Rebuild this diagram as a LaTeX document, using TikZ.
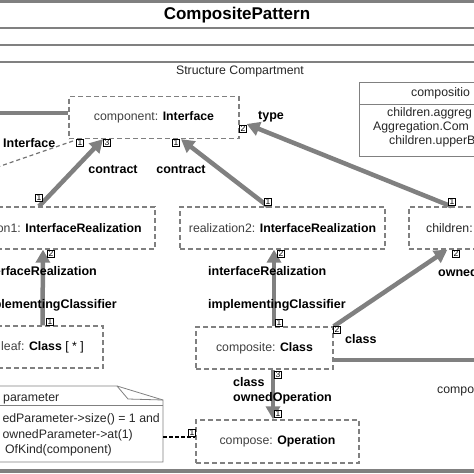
\documentclass[tikz,border=0pt]{standalone}
\usepackage{fontspec}
\setmainfont{Liberation Sans}
\usetikzlibrary{arrows.meta}

\begin{document}
\begin{tikzpicture}[
    x=1pt, y=-1pt,
    part/.style={draw=gray, dash pattern=on 5pt off 3pt, line width=1.3pt, minimum height=42pt, font=\fontsize{12.3}{14}\selectfont},
    conn/.style={draw=gray, line width=4.5pt, -{Triangle[width=14pt,length=13pt]}},
    band/.style={draw=gray, line width=3pt},
    mult/.style={draw=black, line width=0.6pt, inner sep=0.6pt, minimum width=7pt, fill=white, font=\fontsize{8.5}{9}\selectfont},
    role/.style={inner sep=0pt, font=\bfseries\fontsize{12.5}{14}\selectfont},
    plain/.style={inner sep=0pt, text=black!85, font=\fontsize{12.3}{14}\selectfont},
    ]
    \useasboundingbox (0,0) rectangle (474,474);
    \clip (0,0) rectangle (474,474);

    %Frame
    \node[font=\bfseries\fontsize{17}{20}\selectfont] (title) at (237,15) {CompositePattern};
    \draw[band] (0,1.5) -- (474,1.5);
    \draw[band, line width=2.5pt] (0,28) -- (474,28);
    \draw[band, line width=2.5pt] (0,45) -- (474,45);
    \draw[band, line width=2.5pt] (0,62) -- (474,62);
    \draw[band, line width=3.5pt] (0,471) -- (474,471);
    \node[plain] (compartment) at (240,71) {Structure Compartment};

    %Nodes
    \node[part, minimum width=170pt] at (154,117.5) (comp) {\textcolor{black!75}{component:} \textbf{Interface}};
    \node[part, minimum width=214pt] at (48,228) (real1) {\textcolor{black!75}{realization1:} \textbf{InterfaceRealization}};
    \node[part, minimum width=205pt] at (282.5,228) (real2) {\textcolor{black!75}{realization2:} \textbf{InterfaceRealization}};
    \node[part, minimum width=150pt] at (484,228) (child) {};
    \node[plain, anchor=west] at (426,228) (childtxt) {children:};
    \node[part, minimum width=121pt] at (42.5,347) (leaf) {\textcolor{black!75}{leaf:} \textbf{Class} [ * ]};
    \node[part, minimum width=137pt] at (264.5,348) (compst) {\textcolor{black!75}{composite:} \textbf{Class}};
    \node[part, minimum width=163pt, minimum height=43pt] at (277.5,441.5) (cmpop) {\textcolor{black!75}{compose:} \textbf{Operation}};

    %Constraint boxes
    \draw[gray, line width=0.8pt] (480,82) -- (359,82) -- (359,156) -- (480,156);
    \draw[gray, line width=0.8pt] (359,104) -- (480,104);
    \node[plain, anchor=west] at (411,93) (ctitle) {compositio};
    \node[plain, anchor=west] at (387,113) (cline1) {children.aggreg};
    \node[plain, anchor=west] at (373,127) (cline2) {Aggregation.Com};
    \node[plain, anchor=west] at (389,141) (cline3) {children.upperBo};

    \draw[gray, line width=0.8pt] (-20,386) -- (117,386) -- (163,400) -- (163,462) -- (-20,462);
    \draw[gray, line width=0.8pt] (117,386) -- (128,399) -- (163,400);
    \draw[gray, line width=0.8pt] (-20,405) -- (163,405);
    \node[plain, anchor=west] at (3,399) (ntitle) {parameter};
    \node[plain, anchor=east] at (160,419) (nline1) {edParameter->size() = 1 and};
    \node[plain, anchor=east] at (133,435) (nline2) {ownedParameter->at(1)};
    \node[plain, anchor=east] at (112,450) (nline3) {OfKind(component)};
    \coordinate (noteR) at (163,437);

    %Lines
    \coordinate (offL) at (-20,113);
    \coordinate (offD) at (-40,180);
    \coordinate (offR) at (490,360);
    \coordinate (dashA) at (73,141);
    \draw[band, line width=4pt] (offL) -- ([yshift=4.5pt]comp.west);
    \draw[draw=black!55, line width=1.2pt, dash pattern=on 4pt off 3pt] (dashA) -- (offD);
    \draw[band, line width=4pt] ([yshift=-12pt]compst.east) -- (offR);
    \draw[line width=1.2pt, dash pattern=on 4pt off 2pt] (noteR) -- ([yshift=4.5pt]cmpop.west);

    \draw[conn] ([xshift=-9pt]real1.north) -- ([xshift=-51pt]comp.south);
    \draw[conn] ([xshift=-14.5pt]real2.north) -- ([xshift=27pt]comp.south);
    \draw[conn] ([xshift=43pt]child.north west) -- ([xshift=7pt,yshift=-6.5pt]comp.east);
    \draw[conn] (leaf.north) -- ([xshift=-5pt]real1.south);
    \draw[conn] ([xshift=9.5pt]compst.north) -- ([xshift=-8.5pt]real2.south);
    \draw[conn] (compst.north east) -- ([xshift=39pt]child.south west);
    \draw[conn] ([xshift=8.5pt]compst.south) -- ([xshift=-4.5pt]cmpop.north);

    %Multiplicities
    \node[mult] at (80,143) (m1) {1};
    \node[mult] at (107,143) (m2) {3};
    \node[mult] at (176,143) (m3) {1};
    \node[mult] at (243,129) (m4) {2};
    \node[mult] at (39,198) (m5) {1};
    \node[mult] at (268,202) (m6) {1};
    \node[mult] at (452,202) (m7) {1};
    \node[mult] at (51,254) (m8) {2};
    \node[mult] at (281,254) (m9) {2};
    \node[mult] at (456,254) (m10) {2};
    \node[mult] at (50,322) (m11) {1};
    \node[mult] at (279,323) (m12) {1};
    \node[mult] at (337,330) (m13) {2};
    \node[mult] at (278,375) (m14) {3};
    \node[mult] at (278,414) (m15) {1};
    \node[mult] at (192,433) (m16) {1};

    %Role names
    \node[role, anchor=west] at (3,143) (r1) {Interface};
    \node[role] at (113,169) (r2) {contract};
    \node[role] at (181,169) (r3) {contract};
    \node[role] at (271,117) (r4) {type};
    \node[role, anchor=east] at (97,271) (r5) {interfaceRealization};
    \node[role, anchor=east] at (117,305) (r6) {implementingClassifier};
    \node[role, anchor=west] at (208,271) (r7) {interfaceRealization};
    \node[role, anchor=west] at (208,305) (r8) {implementingClassifier};
    \node[role, anchor=west] at (438,272) (r9) {owned};
    \node[role, anchor=west] at (345,339) (r10) {class};
    \node[role, anchor=west] at (233,382) (r11) {class};
    \node[role, anchor=west] at (233,398) (r12) {ownedOperation};
    \node[plain, anchor=west] at (437,391) (r13) {compo};
\end{tikzpicture}
\end{document}
